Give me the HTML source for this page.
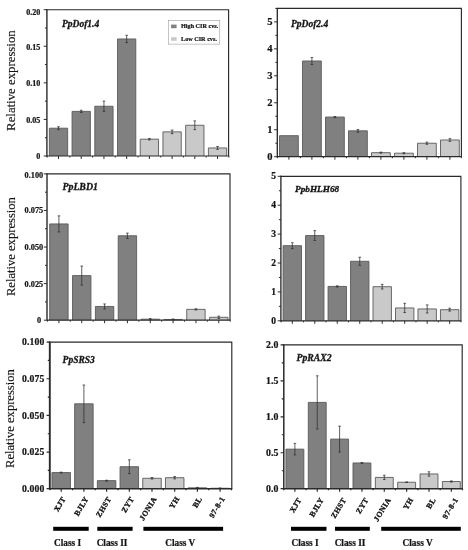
<!DOCTYPE html>
<html lang="en"><head><meta charset="utf-8"><title>Relative expression of candidate genes</title>
<style>
html,body{margin:0;padding:0;background:#fff}
body{width:468px;height:550px;overflow:hidden}
svg{display:block;font-family:"Liberation Serif","Times New Roman",serif;fill:#111}
svg text{fill:#151515}
svg text.b{stroke:#151515;stroke-width:0.22px}
svg text.t{stroke-width:0.3px}
svg text.x{stroke-width:0.34px}
svg text.yl{stroke:#151515;stroke-width:0.15px}
</style></head><body>
<svg width="468" height="550" viewBox="0 0 468 550">
<rect width="468" height="550" fill="#fff"/>
<g>
<path d="M49.35 156.0V128.20h18.30V156.0" fill="#808080" stroke="#5a5a5a" stroke-width="0.9"/>
<path d="M58.50 126.74V129.67M57.20 126.74h2.6M57.20 129.67h2.6" stroke="#2e2e2e" stroke-width="0.75" fill="none"/>
<path d="M72.07 156.0V111.38h18.30V156.0" fill="#808080" stroke="#5a5a5a" stroke-width="0.9"/>
<path d="M81.22 110.28V112.48M79.92 110.28h2.6M79.92 112.48h2.6" stroke="#2e2e2e" stroke-width="0.75" fill="none"/>
<path d="M94.79 156.0V106.26h18.30V156.0" fill="#808080" stroke="#5a5a5a" stroke-width="0.9"/>
<path d="M103.94 101.14V111.38M102.64 101.14h2.6M102.64 111.38h2.6" stroke="#2e2e2e" stroke-width="0.75" fill="none"/>
<path d="M117.51 156.0V38.96h18.30V156.0" fill="#808080" stroke="#5a5a5a" stroke-width="0.9"/>
<path d="M126.66 35.30V42.62M125.36 35.30h2.6M125.36 42.62h2.6" stroke="#2e2e2e" stroke-width="0.75" fill="none"/>
<path d="M140.23 156.0V139.18h18.30V156.0" fill="#c9c9c9" stroke="#5a5a5a" stroke-width="0.9"/>
<path d="M149.38 138.44V139.91M148.08 138.44h2.6M148.08 139.91h2.6" stroke="#2e2e2e" stroke-width="0.75" fill="none"/>
<path d="M162.95 156.0V131.86h18.30V156.0" fill="#c9c9c9" stroke="#5a5a5a" stroke-width="0.9"/>
<path d="M172.10 130.03V133.69M170.80 130.03h2.6M170.80 133.69h2.6" stroke="#2e2e2e" stroke-width="0.75" fill="none"/>
<path d="M185.67 156.0V125.28h18.30V156.0" fill="#c9c9c9" stroke="#5a5a5a" stroke-width="0.9"/>
<path d="M194.82 120.89V129.67M193.52 120.89h2.6M193.52 129.67h2.6" stroke="#2e2e2e" stroke-width="0.75" fill="none"/>
<path d="M208.39 156.0V147.95h18.30V156.0" fill="#c9c9c9" stroke="#5a5a5a" stroke-width="0.9"/>
<path d="M217.54 146.49V149.42M216.24 146.49h2.6M216.24 149.42h2.6" stroke="#2e2e2e" stroke-width="0.75" fill="none"/>
<path d="M46.13 9.7H229.10M228.6 9.7V156.0" stroke="#2a2a2a" stroke-width="1.15" fill="none"/>
<path d="M46.9 9.20V156.66" stroke="#2a2a2a" stroke-width="1.4" fill="none"/>
<path d="M46.9 156.0H229.10" stroke="#2a2a2a" stroke-width="1.16" fill="none"/>
<path d="M46.9 9.70h-3.2M46.9 46.28h-3.2M46.9 82.85h-3.2M46.9 119.42h-3.2M46.9 156.00h-3.2M46.9 137.71h-2M46.9 101.14h-2M46.9 64.56h-2M46.9 27.99h-2M58.50 156.0v3M47.14 156.0v1.5M81.22 156.0v3M69.86 156.0v1.5M103.94 156.0v3M92.58 156.0v1.5M126.66 156.0v3M115.30 156.0v1.5M149.38 156.0v3M138.02 156.0v1.5M172.10 156.0v3M160.74 156.0v1.5M194.82 156.0v3M183.46 156.0v1.5M217.54 156.0v3M206.18 156.0v1.5M228.90 156.0v1.5" stroke="#2a2a2a" stroke-width="0.99" fill="none"/>
<text x="40.3" y="14.5" font-size="8.1" font-weight="bold" text-anchor="end" class="b">0.20</text>
<text x="40.3" y="49.5" font-size="8.1" font-weight="bold" text-anchor="end" class="b">0.15</text>
<text x="40.3" y="86.1" font-size="8.1" font-weight="bold" text-anchor="end" class="b">0.10</text>
<text x="40.3" y="122.7" font-size="8.1" font-weight="bold" text-anchor="end" class="b">0.05</text>
<text x="40.3" y="159.2" font-size="8.1" font-weight="bold" text-anchor="end" class="b">0</text>
<text x="62" y="27" font-size="9.5" font-weight="bold" font-style="italic" class="b t">PpDof1.4</text>
<text transform="translate(15.3,80.6) rotate(-90)" font-size="12.8" text-anchor="middle" class="yl">Relative expression</text>
</g>
<g>
<path d="M279.50 156.7V135.67h18.80V156.7" fill="#808080" stroke="#5a5a5a" stroke-width="0.9"/>
<path d="M302.50 156.7V60.98h18.80V156.7" fill="#808080" stroke="#5a5a5a" stroke-width="0.9"/>
<path d="M311.90 57.47V64.48M310.60 57.47h2.6M310.60 64.48h2.6" stroke="#2e2e2e" stroke-width="0.75" fill="none"/>
<path d="M325.50 156.7V117.06h18.80V156.7" fill="#808080" stroke="#5a5a5a" stroke-width="0.9"/>
<path d="M334.90 116.52V117.60M333.60 116.52h2.6M333.60 117.60h2.6" stroke="#2e2e2e" stroke-width="0.75" fill="none"/>
<path d="M348.50 156.7V130.81h18.80V156.7" fill="#808080" stroke="#5a5a5a" stroke-width="0.9"/>
<path d="M357.90 129.47V132.16M356.60 129.47h2.6M356.60 132.16h2.6" stroke="#2e2e2e" stroke-width="0.75" fill="none"/>
<path d="M371.50 156.7V152.66h18.80V156.7" fill="#c9c9c9" stroke="#5a5a5a" stroke-width="0.9"/>
<path d="M380.90 152.12V153.19M379.60 152.12h2.6M379.60 153.19h2.6" stroke="#2e2e2e" stroke-width="0.75" fill="none"/>
<path d="M394.50 156.7V153.19h18.80V156.7" fill="#c9c9c9" stroke="#5a5a5a" stroke-width="0.9"/>
<path d="M403.90 152.66V153.73M402.60 152.66h2.6M402.60 153.73h2.6" stroke="#2e2e2e" stroke-width="0.75" fill="none"/>
<path d="M417.50 156.7V143.22h18.80V156.7" fill="#c9c9c9" stroke="#5a5a5a" stroke-width="0.9"/>
<path d="M426.90 142.14V144.30M425.60 142.14h2.6M425.60 144.30h2.6" stroke="#2e2e2e" stroke-width="0.75" fill="none"/>
<path d="M440.50 156.7V139.98h18.80V156.7" fill="#c9c9c9" stroke="#5a5a5a" stroke-width="0.9"/>
<path d="M449.90 138.63V141.33M448.60 138.63h2.6M448.60 141.33h2.6" stroke="#2e2e2e" stroke-width="0.75" fill="none"/>
<path d="M276.53 8.4H461.90M461.4 8.4V156.7" stroke="#2a2a2a" stroke-width="1.15" fill="none"/>
<path d="M277.3 7.90V157.36" stroke="#2a2a2a" stroke-width="1.35" fill="none"/>
<path d="M277.3 156.7H461.90" stroke="#2a2a2a" stroke-width="1.16" fill="none"/>
<path d="M277.3 21.88h-3.2M277.3 48.85h-3.2M277.3 75.81h-3.2M277.3 102.77h-3.2M277.3 129.74h-3.2M277.3 156.70h-3.2M277.3 143.22h-2M277.3 116.25h-2M277.3 89.29h-2M277.3 62.33h-2M277.3 35.36h-2M277.3 8.40h-2M288.90 156.7v3M277.40 156.7v1.5M311.90 156.7v3M300.40 156.7v1.5M334.90 156.7v3M323.40 156.7v1.5M357.90 156.7v3M346.40 156.7v1.5M380.90 156.7v3M369.40 156.7v1.5M403.90 156.7v3M392.40 156.7v1.5M426.90 156.7v3M415.40 156.7v1.5M449.90 156.7v3M438.40 156.7v1.5M461.40 156.7v1.5" stroke="#2a2a2a" stroke-width="0.99" fill="none"/>
<text x="272.4" y="25.4" font-size="10.5" font-weight="bold" text-anchor="end" class="b">5</text>
<text x="272.4" y="52.4" font-size="10.5" font-weight="bold" text-anchor="end" class="b">4</text>
<text x="272.4" y="79.4" font-size="10.5" font-weight="bold" text-anchor="end" class="b">3</text>
<text x="272.4" y="106.3" font-size="10.5" font-weight="bold" text-anchor="end" class="b">2</text>
<text x="272.4" y="133.3" font-size="10.5" font-weight="bold" text-anchor="end" class="b">1</text>
<text x="272.4" y="160.2" font-size="10.5" font-weight="bold" text-anchor="end" class="b">0</text>
<text x="291" y="27" font-size="9.5" font-weight="bold" font-style="italic" class="b t">PpDof2.4</text>
</g>
<g>
<path d="M49.70 320.2V223.93h18.40V320.2" fill="#808080" stroke="#5a5a5a" stroke-width="0.9"/>
<path d="M58.90 215.89V231.98M57.60 215.89h2.6M57.60 231.98h2.6" stroke="#2e2e2e" stroke-width="0.75" fill="none"/>
<path d="M72.54 320.2V275.58h18.40V320.2" fill="#808080" stroke="#5a5a5a" stroke-width="0.9"/>
<path d="M81.74 266.07V285.09M80.44 266.07h2.6M80.44 285.09h2.6" stroke="#2e2e2e" stroke-width="0.75" fill="none"/>
<path d="M95.38 320.2V306.45h18.40V320.2" fill="#808080" stroke="#5a5a5a" stroke-width="0.9"/>
<path d="M104.58 303.96V308.93M103.28 303.96h2.6M103.28 308.93h2.6" stroke="#2e2e2e" stroke-width="0.75" fill="none"/>
<path d="M118.22 320.2V235.78h18.40V320.2" fill="#808080" stroke="#5a5a5a" stroke-width="0.9"/>
<path d="M127.42 233.15V238.42M126.12 233.15h2.6M126.12 238.42h2.6" stroke="#2e2e2e" stroke-width="0.75" fill="none"/>
<path d="M141.06 320.2V319.18h18.40V320.2" fill="#c9c9c9" stroke="#5a5a5a" stroke-width="0.9"/>
<path d="M150.26 318.59V319.76M148.96 318.59h2.6M148.96 319.76h2.6" stroke="#2e2e2e" stroke-width="0.75" fill="none"/>
<path d="M163.90 320.2V319.47h18.40V320.2" fill="#c9c9c9" stroke="#5a5a5a" stroke-width="0.9"/>
<path d="M173.10 319.03V319.91M171.80 319.03h2.6M171.80 319.91h2.6" stroke="#2e2e2e" stroke-width="0.75" fill="none"/>
<path d="M186.74 320.2V309.37h18.40V320.2" fill="#c9c9c9" stroke="#5a5a5a" stroke-width="0.9"/>
<path d="M195.94 308.79V309.96M194.64 308.79h2.6M194.64 309.96h2.6" stroke="#2e2e2e" stroke-width="0.75" fill="none"/>
<path d="M209.58 320.2V317.27h18.40V320.2" fill="#c9c9c9" stroke="#5a5a5a" stroke-width="0.9"/>
<path d="M218.78 316.10V318.44M217.48 316.10h2.6M217.48 318.44h2.6" stroke="#2e2e2e" stroke-width="0.75" fill="none"/>
<path d="M46.23 173.9H230.50M230.0 173.9V320.2" stroke="#2a2a2a" stroke-width="1.15" fill="none"/>
<path d="M47.0 173.40V320.86" stroke="#2a2a2a" stroke-width="1.4" fill="none"/>
<path d="M47.0 320.2H230.50" stroke="#2a2a2a" stroke-width="1.16" fill="none"/>
<path d="M47.0 173.90h-3.2M47.0 210.48h-3.2M47.0 247.05h-3.2M47.0 283.62h-3.2M47.0 320.20h-3.2M47.0 301.91h-2M47.0 265.34h-2M47.0 228.76h-2M47.0 192.19h-2M58.90 320.2v3M47.48 320.2v1.5M81.74 320.2v3M70.32 320.2v1.5M104.58 320.2v3M93.16 320.2v1.5M127.42 320.2v3M116.00 320.2v1.5M150.26 320.2v3M138.84 320.2v1.5M173.10 320.2v3M161.68 320.2v1.5M195.94 320.2v3M184.52 320.2v1.5M218.78 320.2v3M207.36 320.2v1.5M230.20 320.2v1.5" stroke="#2a2a2a" stroke-width="0.99" fill="none"/>
<text x="43.2" y="178.4" font-size="8.3" font-weight="bold" text-anchor="end" class="b">0.100</text>
<text x="43.2" y="213.4" font-size="8.3" font-weight="bold" text-anchor="end" class="b">0.075</text>
<text x="43.2" y="250.0" font-size="8.3" font-weight="bold" text-anchor="end" class="b">0.050</text>
<text x="43.2" y="286.5" font-size="8.3" font-weight="bold" text-anchor="end" class="b">0.025</text>
<text x="41.2" y="323.1" font-size="8.3" font-weight="bold" text-anchor="end" class="b">0</text>
<text x="62.5" y="189.8" font-size="9.8" font-weight="bold" font-style="italic" class="b t">PpLBD1</text>
<text transform="translate(14.9,246.6) rotate(-90)" font-size="12.6" text-anchor="middle" class="yl">Relative expression</text>
</g>
<g>
<path d="M283.10 320.8V245.66h18.40V320.8" fill="#808080" stroke="#5a5a5a" stroke-width="0.9"/>
<path d="M292.30 242.77V248.55M291.00 242.77h2.6M291.00 248.55h2.6" stroke="#2e2e2e" stroke-width="0.75" fill="none"/>
<path d="M305.58 320.8V235.55h18.40V320.8" fill="#808080" stroke="#5a5a5a" stroke-width="0.9"/>
<path d="M314.78 230.63V240.46M313.48 230.63h2.6M313.48 240.46h2.6" stroke="#2e2e2e" stroke-width="0.75" fill="none"/>
<path d="M328.06 320.8V286.41h18.40V320.8" fill="#808080" stroke="#5a5a5a" stroke-width="0.9"/>
<path d="M337.26 285.83V286.99M335.96 285.83h2.6M335.96 286.99h2.6" stroke="#2e2e2e" stroke-width="0.75" fill="none"/>
<path d="M350.54 320.8V261.27h18.40V320.8" fill="#808080" stroke="#5a5a5a" stroke-width="0.9"/>
<path d="M359.74 257.22V265.31M358.44 257.22h2.6M358.44 265.31h2.6" stroke="#2e2e2e" stroke-width="0.75" fill="none"/>
<path d="M373.02 320.8V286.70h18.40V320.8" fill="#c9c9c9" stroke="#5a5a5a" stroke-width="0.9"/>
<path d="M382.22 284.39V289.01M380.92 284.39h2.6M380.92 289.01h2.6" stroke="#2e2e2e" stroke-width="0.75" fill="none"/>
<path d="M395.50 320.8V307.94h18.40V320.8" fill="#c9c9c9" stroke="#5a5a5a" stroke-width="0.9"/>
<path d="M404.70 303.32V312.56M403.40 303.32h2.6M403.40 312.56h2.6" stroke="#2e2e2e" stroke-width="0.75" fill="none"/>
<path d="M417.98 320.8V308.95h18.40V320.8" fill="#c9c9c9" stroke="#5a5a5a" stroke-width="0.9"/>
<path d="M427.18 304.91V313.00M425.88 304.91h2.6M425.88 313.00h2.6" stroke="#2e2e2e" stroke-width="0.75" fill="none"/>
<path d="M440.46 320.8V309.67h18.40V320.8" fill="#c9c9c9" stroke="#5a5a5a" stroke-width="0.9"/>
<path d="M449.66 308.23V311.12M448.36 308.23h2.6M448.36 311.12h2.6" stroke="#2e2e2e" stroke-width="0.75" fill="none"/>
<path d="M280.13 176.3H461.40M460.9 176.3V320.8" stroke="#2a2a2a" stroke-width="1.15" fill="none"/>
<path d="M280.9 175.80V321.46" stroke="#2a2a2a" stroke-width="1.35" fill="none"/>
<path d="M280.9 320.8H461.40" stroke="#2a2a2a" stroke-width="1.16" fill="none"/>
<path d="M280.9 176.30h-3.2M280.9 205.20h-3.2M280.9 234.10h-3.2M280.9 263.00h-3.2M280.9 291.90h-3.2M280.9 320.80h-3.2M280.9 306.35h-2M280.9 277.45h-2M280.9 248.55h-2M280.9 219.65h-2M280.9 190.75h-2M292.30 320.8v3M281.06 320.8v1.5M314.78 320.8v3M303.54 320.8v1.5M337.26 320.8v3M326.02 320.8v1.5M359.74 320.8v3M348.50 320.8v1.5M382.22 320.8v3M370.98 320.8v1.5M404.70 320.8v3M393.46 320.8v1.5M427.18 320.8v3M415.94 320.8v1.5M449.66 320.8v3M438.42 320.8v1.5M460.90 320.8v1.5" stroke="#2a2a2a" stroke-width="0.99" fill="none"/>
<text x="276.0" y="179.2" font-size="9.5" font-weight="bold" text-anchor="end" class="b">5</text>
<text x="276.0" y="208.1" font-size="9.5" font-weight="bold" text-anchor="end" class="b">4</text>
<text x="276.0" y="237.0" font-size="9.5" font-weight="bold" text-anchor="end" class="b">3</text>
<text x="276.0" y="265.9" font-size="9.5" font-weight="bold" text-anchor="end" class="b">2</text>
<text x="276.0" y="294.8" font-size="9.5" font-weight="bold" text-anchor="end" class="b">1</text>
<text x="276.0" y="323.7" font-size="9.5" font-weight="bold" text-anchor="end" class="b">0</text>
<text x="295" y="191.9" font-size="9.25" font-weight="bold" font-style="italic" class="b t">PpbHLH68</text>
</g>
<g>
<path d="M51.95 488.7V472.57h18.50V488.7" fill="#808080" stroke="#5a5a5a" stroke-width="0.9"/>
<path d="M61.20 472.13V473.01M59.90 472.13h2.6M59.90 473.01h2.6" stroke="#2e2e2e" stroke-width="0.75" fill="none"/>
<path d="M74.65 488.7V403.82h18.50V488.7" fill="#808080" stroke="#5a5a5a" stroke-width="0.9"/>
<path d="M83.90 385.05V422.58M82.60 385.05h2.6M82.60 422.58h2.6" stroke="#2e2e2e" stroke-width="0.75" fill="none"/>
<path d="M97.35 488.7V480.64h18.50V488.7" fill="#808080" stroke="#5a5a5a" stroke-width="0.9"/>
<path d="M106.60 480.20V481.08M105.30 480.20h2.6M105.30 481.08h2.6" stroke="#2e2e2e" stroke-width="0.75" fill="none"/>
<path d="M120.05 488.7V466.71h18.50V488.7" fill="#808080" stroke="#5a5a5a" stroke-width="0.9"/>
<path d="M129.30 459.82V473.60M128.00 459.82h2.6M128.00 473.60h2.6" stroke="#2e2e2e" stroke-width="0.75" fill="none"/>
<path d="M142.75 488.7V478.29h18.50V488.7" fill="#c9c9c9" stroke="#5a5a5a" stroke-width="0.9"/>
<path d="M152.00 477.56V479.02M150.70 477.56h2.6M150.70 479.02h2.6" stroke="#2e2e2e" stroke-width="0.75" fill="none"/>
<path d="M165.45 488.7V477.70h18.50V488.7" fill="#c9c9c9" stroke="#5a5a5a" stroke-width="0.9"/>
<path d="M174.70 476.53V478.88M173.40 476.53h2.6M173.40 478.88h2.6" stroke="#2e2e2e" stroke-width="0.75" fill="none"/>
<path d="M188.15 488.7V487.82h18.50V488.7" fill="#c9c9c9" stroke="#5a5a5a" stroke-width="0.9"/>
<path d="M197.40 487.38V488.26M196.10 487.38h2.6M196.10 488.26h2.6" stroke="#2e2e2e" stroke-width="0.75" fill="none"/>
<path d="M210.85 488.7V488.26h18.50V488.7" fill="#c9c9c9" stroke="#5a5a5a" stroke-width="0.9"/>
<path d="M220.10 487.97V488.55M218.80 487.97h2.6M218.80 488.55h2.6" stroke="#2e2e2e" stroke-width="0.75" fill="none"/>
<path d="M48.89 342.1H232.30M231.8 342.1V488.7" stroke="#2a2a2a" stroke-width="1.15" fill="none"/>
<path d="M49.8 341.60V489.48" stroke="#2a2a2a" stroke-width="1.9" fill="none"/>
<path d="M49.8 488.7H232.30" stroke="#2a2a2a" stroke-width="1.37" fill="none"/>
<path d="M49.8 342.10h-3.2M49.8 378.75h-3.2M49.8 415.40h-3.2M49.8 452.05h-3.2M49.8 488.70h-3.2M49.8 470.38h-2M49.8 433.73h-2M49.8 397.08h-2M49.8 360.43h-2M61.20 488.7v3M49.85 488.7v1.5M83.90 488.7v3M72.55 488.7v1.5M106.60 488.7v3M95.25 488.7v1.5M129.30 488.7v3M117.95 488.7v1.5M152.00 488.7v3M140.65 488.7v1.5M174.70 488.7v3M163.35 488.7v1.5M197.40 488.7v3M186.05 488.7v1.5M220.10 488.7v3M208.75 488.7v1.5M231.45 488.7v1.5" stroke="#2a2a2a" stroke-width="1.17" fill="none"/>
<text x="44.5" y="345.2" font-size="9.7" letter-spacing="0.15" font-weight="bold" text-anchor="end" class="b">0.100</text>
<text x="44.5" y="381.8" font-size="9.7" letter-spacing="0.15" font-weight="bold" text-anchor="end" class="b">0.075</text>
<text x="44.5" y="418.5" font-size="9.7" letter-spacing="0.15" font-weight="bold" text-anchor="end" class="b">0.050</text>
<text x="44.5" y="455.1" font-size="9.7" letter-spacing="0.15" font-weight="bold" text-anchor="end" class="b">0.025</text>
<text x="44.5" y="491.8" font-size="9.7" letter-spacing="0.15" font-weight="bold" text-anchor="end" class="b">0.000</text>
<text x="62.6" y="363.4" font-size="9.5" font-weight="bold" font-style="italic" class="b t">PpSRS3</text>
<text transform="translate(14.3,418.6) rotate(-90)" font-size="12.55" text-anchor="middle" class="yl">Relative expression</text>
</g>
<g>
<path d="M285.95 488.7V449.15h17.90V488.7" fill="#808080" stroke="#5a5a5a" stroke-width="0.9"/>
<path d="M294.90 443.40V454.91M293.60 443.40h2.6M293.60 454.91h2.6" stroke="#2e2e2e" stroke-width="0.75" fill="none"/>
<path d="M308.30 488.7V402.42h17.90V488.7" fill="#808080" stroke="#5a5a5a" stroke-width="0.9"/>
<path d="M317.25 375.82V429.02M315.95 375.82h2.6M315.95 429.02h2.6" stroke="#2e2e2e" stroke-width="0.75" fill="none"/>
<path d="M330.65 488.7V439.09h17.90V488.7" fill="#808080" stroke="#5a5a5a" stroke-width="0.9"/>
<path d="M339.60 426.15V452.03M338.30 426.15h2.6M338.30 452.03h2.6" stroke="#2e2e2e" stroke-width="0.75" fill="none"/>
<path d="M353.00 488.7V462.96h17.90V488.7" fill="#808080" stroke="#5a5a5a" stroke-width="0.9"/>
<path d="M361.95 462.60V463.32M360.65 462.60h2.6M360.65 463.32h2.6" stroke="#2e2e2e" stroke-width="0.75" fill="none"/>
<path d="M375.35 488.7V477.41h17.90V488.7" fill="#c9c9c9" stroke="#5a5a5a" stroke-width="0.9"/>
<path d="M384.30 475.25V479.57M383.00 475.25h2.6M383.00 479.57h2.6" stroke="#2e2e2e" stroke-width="0.75" fill="none"/>
<path d="M397.70 488.7V482.23h17.90V488.7" fill="#c9c9c9" stroke="#5a5a5a" stroke-width="0.9"/>
<path d="M406.65 482.01V482.44M405.35 482.01h2.6M405.35 482.44h2.6" stroke="#2e2e2e" stroke-width="0.75" fill="none"/>
<path d="M420.05 488.7V473.96h17.90V488.7" fill="#c9c9c9" stroke="#5a5a5a" stroke-width="0.9"/>
<path d="M429.00 471.80V476.12M427.70 471.80h2.6M427.70 476.12h2.6" stroke="#2e2e2e" stroke-width="0.75" fill="none"/>
<path d="M442.40 488.7V481.51h17.90V488.7" fill="#c9c9c9" stroke="#5a5a5a" stroke-width="0.9"/>
<path d="M451.35 480.93V482.09M450.05 480.93h2.6M450.05 482.09h2.6" stroke="#2e2e2e" stroke-width="0.75" fill="none"/>
<path d="M282.89 344.9H462.70M462.2 344.9V488.7" stroke="#2a2a2a" stroke-width="1.15" fill="none"/>
<path d="M283.8 344.40V489.48" stroke="#2a2a2a" stroke-width="1.5" fill="none"/>
<path d="M283.8 488.7H462.70" stroke="#2a2a2a" stroke-width="1.37" fill="none"/>
<path d="M283.8 344.90h-3.2M283.8 380.85h-3.2M283.8 416.80h-3.2M283.8 452.75h-3.2M283.8 488.70h-3.2M283.8 470.72h-2M283.8 434.77h-2M283.8 398.82h-2M283.8 362.88h-2M294.90 488.7v3M283.72 488.7v1.5M317.25 488.7v3M306.07 488.7v1.5M339.60 488.7v3M328.42 488.7v1.5M361.95 488.7v3M350.77 488.7v1.5M384.30 488.7v3M373.12 488.7v1.5M406.65 488.7v3M395.47 488.7v1.5M429.00 488.7v3M417.82 488.7v1.5M451.35 488.7v3M440.18 488.7v1.5M462.52 488.7v1.5" stroke="#2a2a2a" stroke-width="1.17" fill="none"/>
<text x="278.3" y="348.4" font-size="9.8" font-weight="bold" text-anchor="end" class="b">2.0</text>
<text x="278.3" y="384.4" font-size="9.8" font-weight="bold" text-anchor="end" class="b">1.5</text>
<text x="278.3" y="420.3" font-size="9.8" font-weight="bold" text-anchor="end" class="b">1.0</text>
<text x="278.3" y="456.3" font-size="9.8" font-weight="bold" text-anchor="end" class="b">0.5</text>
<text x="278.3" y="492.2" font-size="9.8" font-weight="bold" text-anchor="end" class="b">0.0</text>
<text x="296.5" y="361.3" font-size="9.7" font-weight="bold" font-style="italic" class="b t">PpRAX2</text>
</g>
<g><rect x="168.3" y="20.3" width="51.5" height="23.8" fill="#fff" stroke="#8a8a8a" stroke-width="0.5"/>
<rect x="171.1" y="24.6" width="5.5" height="3.6" fill="#808080"/><rect x="171.1" y="37.2" width="5.5" height="3.6" fill="#c9c9c9"/>
<text x="181" y="28.3" font-size="6.2" font-weight="bold" class="b">High CIR cvs.</text><text x="181" y="41" font-size="6.2" font-weight="bold" class="b">Low CIR cvs.</text></g>
<text transform="translate(66.2,498.6) rotate(-59)" font-size="7.7" letter-spacing="0.45" font-weight="bold" text-anchor="end" class="b x">XJT</text>
<text transform="translate(88.9,498.6) rotate(-59)" font-size="7.7" letter-spacing="0.45" font-weight="bold" text-anchor="end" class="b x">BJLY</text>
<text transform="translate(111.6,498.6) rotate(-59)" font-size="7.7" letter-spacing="0.45" font-weight="bold" text-anchor="end" class="b x">ZHST</text>
<text transform="translate(134.3,498.6) rotate(-59)" font-size="7.7" letter-spacing="0.45" font-weight="bold" text-anchor="end" class="b x">ZYT</text>
<text transform="translate(157.0,498.6) rotate(-59)" font-size="7.7" letter-spacing="0.45" font-weight="bold" text-anchor="end" class="b x">JONIA</text>
<text transform="translate(179.7,498.6) rotate(-59)" font-size="7.7" letter-spacing="0.45" font-weight="bold" text-anchor="end" class="b x">YH</text>
<text transform="translate(202.4,498.6) rotate(-59)" font-size="7.7" letter-spacing="0.45" font-weight="bold" text-anchor="end" class="b x">BL</text>
<text transform="translate(225.1,498.6) rotate(-59)" font-size="7.7" letter-spacing="0.45" font-weight="bold" text-anchor="end" class="b x">97-8-1</text>
<text transform="translate(301.9,499.6) rotate(-59)" font-size="7.7" letter-spacing="0.45" font-weight="bold" text-anchor="end" class="b x">XJT</text>
<text transform="translate(324.2,499.6) rotate(-59)" font-size="7.7" letter-spacing="0.45" font-weight="bold" text-anchor="end" class="b x">BJLY</text>
<text transform="translate(346.6,499.6) rotate(-59)" font-size="7.7" letter-spacing="0.45" font-weight="bold" text-anchor="end" class="b x">ZHST</text>
<text transform="translate(368.9,499.6) rotate(-59)" font-size="7.7" letter-spacing="0.45" font-weight="bold" text-anchor="end" class="b x">ZYT</text>
<text transform="translate(391.3,499.6) rotate(-59)" font-size="7.7" letter-spacing="0.45" font-weight="bold" text-anchor="end" class="b x">JONIA</text>
<text transform="translate(413.6,499.6) rotate(-59)" font-size="7.7" letter-spacing="0.45" font-weight="bold" text-anchor="end" class="b x">YH</text>
<text transform="translate(436.0,499.6) rotate(-59)" font-size="7.7" letter-spacing="0.45" font-weight="bold" text-anchor="end" class="b x">BL</text>
<text transform="translate(458.4,499.6) rotate(-59)" font-size="7.7" letter-spacing="0.45" font-weight="bold" text-anchor="end" class="b x">97-8-1</text>
<rect x="53.2" y="526.8" width="35.5" height="4" fill="#000"/>
<text x="67.5" y="546" font-size="9.3" font-weight="bold" text-anchor="middle" class="b">Class I</text>
<rect x="97.3" y="526.8" width="35.3" height="4" fill="#000"/>
<text x="112" y="546" font-size="9.3" font-weight="bold" text-anchor="middle" class="b">Class II</text>
<rect x="143.4" y="526.8" width="79.7" height="4" fill="#000"/>
<text x="180.3" y="546" font-size="9.3" font-weight="bold" text-anchor="middle" class="b">Class V</text>
<rect x="291" y="526.8" width="35.5" height="4" fill="#000"/>
<text x="305" y="546" font-size="9.3" font-weight="bold" text-anchor="middle" class="b">Class I</text>
<rect x="335" y="526.8" width="34.8" height="4" fill="#000"/>
<text x="350" y="546" font-size="9.3" font-weight="bold" text-anchor="middle" class="b">Class II</text>
<rect x="381.2" y="526.8" width="79.6" height="4" fill="#000"/>
<text x="417.6" y="546" font-size="9.3" font-weight="bold" text-anchor="middle" class="b">Class V</text>
</svg>
</body></html>
